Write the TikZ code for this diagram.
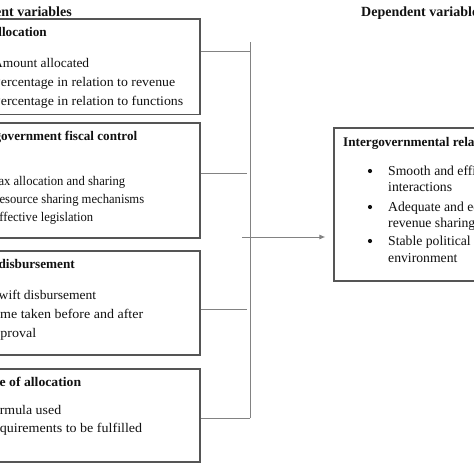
\documentclass[tikz,border=0pt]{standalone}
\usepackage{fontspec}
\usepackage{graphicx}
\setmainfont{Liberation Serif}
\usetikzlibrary{arrows.meta}
\definecolor{boxgray}{HTML}{555555}
\definecolor{linegray}{HTML}{828282}
\definecolor{ink}{HTML}{111111}
\newcommand\fw[2]{\resizebox{#1pt}{\height}{#2}}
\tikzset{
  vbox/.style={draw=boxgray, line width=1.1pt, rectangle, inner sep=0pt},
  conn/.style={draw=linegray, line width=1pt},
  arr/.style={conn, -{Latex[length=6pt,width=5pt]}, shorten >=8pt},
  txt/.style={inner sep=0pt, text=ink, font=\fontsize{13.2}{16}\selectfont, anchor=base west},
  ttl/.style={inner sep=0pt, text=ink, font=\fontsize{13.2}{16}\selectfont\bfseries},
  hdr/.style={inner sep=0pt, text=ink, font=\fontsize{14}{16}\selectfont\bfseries},
  rtxt/.style={inner sep=0pt, text=ink, font=\fontsize{13.7}{16}\selectfont, anchor=base west},
  dot/.style={circle, fill=ink, inner sep=0pt, minimum size=4.2pt}
}
\begin{document}
\begin{tikzpicture}[x=1pt, y=-1pt]
\useasboundingbox (0,0) rectangle (474,474);
\fill[white] (0,0) rectangle (474,474);
\clip (0,0) rectangle (474,474);

% headers
\node[hdr, anchor=base east] (hin) at (72,16) {Independent variables};
\node[hdr, anchor=base west] (hdep) at (361,16) {Dependent variables};

% left boxes
\node[vbox, minimum width=220pt, minimum height=95.5pt] (b1) at (90,66.75) {};
\node[vbox, minimum width=220pt, minimum height=115pt] (b2) at (90,180.5) {};
\node[vbox, minimum width=220pt, minimum height=104pt] (b3) at (90,303) {};
\node[vbox, minimum width=220pt, minimum height=93pt] (b4) at (90,415.5) {};

% box 1 text
\node[ttl, anchor=base east] (t1) at (47,36) {Fund allocation};
\node[txt] (t1a) at (-7,67) {\fw{96}{Amount allocated}};
\node[txt] (t1b) at (-7,86) {\fw{182}{Percentage in relation to revenue}};
\node[txt] (t1c) at (-7,105) {\fw{190}{Percentage in relation to functions}};

% box 2 text
\node[ttl, anchor=base west] (t2) at (-34,140) {\fw{171}{Intergovernment fiscal control}};
\node[txt] (t2a) at (-8.5,185) {\fw{133.5}{Tax allocation and sharing}};
\node[txt] (t2b) at (-9,203) {\fw{153}{Resource sharing mechanisms}};
\node[txt] (t2c) at (-8.5,221) {\fw{101.5}{Effective legislation}};

% box 3 text
\node[ttl, anchor=base east] (t3) at (75,268) {Fund disbursement};
\node[txt] (t3a) at (-9,299) {\fw{105}{Swift disbursement}};
\node[txt] (t3b) at (-12,318) {\fw{155}{Time taken before and after}};
\node[txt] (t3c) at (-13,337) {\fw{49}{approval}};

% box 4 text
\node[ttl, anchor=base west] (t4) at (-28,386) {\fw{109}{Mode of allocation}};
\node[txt] (t4a) at (-15,414) {\fw{76}{Formula used}};
\node[txt] (t4b) at (-16,432) {\fw{158}{Requirements to be fulfilled}};

% right box
\node[vbox, minimum width=206pt, minimum height=153pt] (rb) at (437,204.5) {};
\node[ttl, anchor=base west] (rt) at (343,146) {Intergovernmental relations};
\node[dot] (d1) at (370,171) {};
\node[rtxt] (r1a) at (388,175) {Smooth and efficient};
\node[rtxt] (r1b) at (388,191) {interactions};
\node[dot] (d2) at (370,207) {};
\node[rtxt] (r2a) at (388,211) {Adequate and equitable};
\node[rtxt] (r2b) at (388,227) {revenue sharing};
\node[dot] (d3) at (370,241) {};
\node[rtxt] (r3a) at (388,245) {Stable political};
\node[rtxt] (r3b) at (388,262) {environment};

% connectors
\coordinate (vtop) at (250,42);
\coordinate (j1) at (250,51);
\coordinate (j2) at (247,173);
\coordinate (j3) at (247,309);
\coordinate (j4) at (250,418);
\coordinate (as) at (242,237);
\draw[conn] (vtop) -- (j4);
\draw[conn] (b1.east |- j1) -- (j1);
\draw[conn] (b2.east |- j2) -- (j2);
\draw[conn] (b3.east |- j3) -- (j3);
\draw[conn] (b4.east |- j4) -- (j4);
\draw[arr] (as) -- (rb.west |- as);
\end{tikzpicture}
\end{document}
